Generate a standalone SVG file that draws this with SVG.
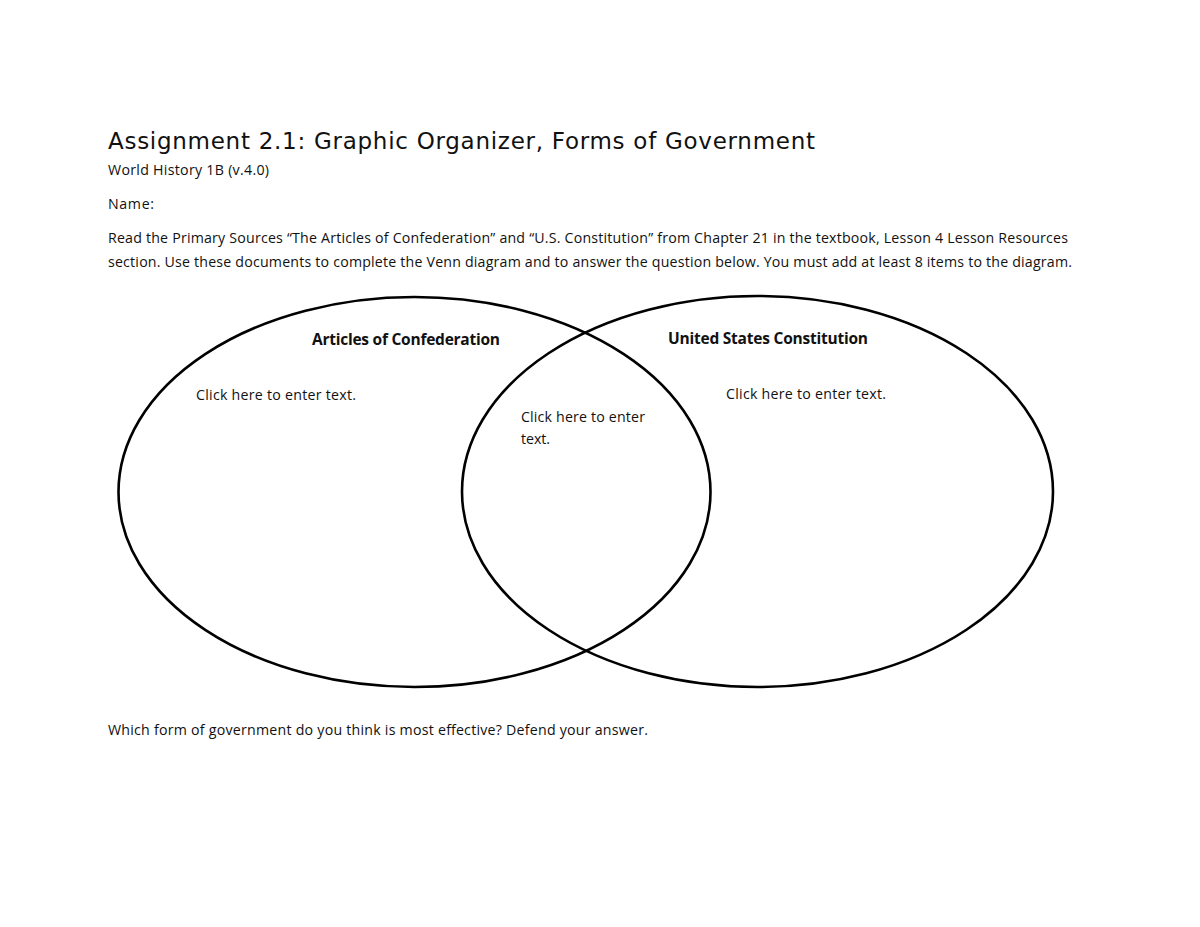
<svg xmlns="http://www.w3.org/2000/svg" width="1200" height="927" viewBox="0 0 1200 927">
<style>
.t{font-family:"DejaVu Sans","Noto Sans",sans-serif;font-size:23px;fill:#111}
.b{font-family:"Open Sans","Noto Sans",sans-serif;font-size:14.2px;fill:#111}
.h{font-family:"Open Sans","Noto Sans",sans-serif;font-size:15.5px;font-weight:bold;fill:#111}
.e{fill:none;stroke:#000;stroke-width:2.6}
</style>
<rect width="1200" height="927" fill="#fff"/>
<g id="header">
<text class="t" x="108" y="149" textLength="707">Assignment 2.1: Graphic Organizer, Forms of Government</text>
<text class="b" x="108" y="175" textLength="161">World History 1B (v.4.0)</text>
<text class="b" x="108" y="209" textLength="46">Name:</text>
<text class="b" x="108" y="243" textLength="960">Read the Primary Sources “The Articles of Confederation” and “U.S. Constitution” from Chapter 21 in the textbook, Lesson 4 Lesson Resources</text>
<text class="b" x="108" y="267" textLength="964">section. Use these documents to complete the Venn diagram and to answer the question below. You must add at least 8 items to the diagram.</text>
</g>
<g id="articles">
<ellipse class="e" cx="414.5" cy="492" rx="296" ry="195"/>
<text class="h" x="312" y="345" textLength="188">Articles of Confederation</text>
<text class="b" x="196" y="400" textLength="160">Click here to enter text.</text>
</g>
<g id="constitution">
<ellipse class="e" cx="757.5" cy="491.5" rx="295.5" ry="195.5"/>
<text class="h" x="668" y="344" textLength="200">United States Constitution</text>
<text class="b" x="726" y="399" textLength="160">Click here to enter text.</text>
</g>
<g id="both">
<text class="b" x="521" y="422" textLength="124">Click here to enter</text>
<text class="b" x="521" y="444" textLength="29">text.</text>
</g>
<g id="connectors"></g>
<g id="question">
<text class="b" x="108" y="735" textLength="540">Which form of government do you think is most effective? Defend your answer.</text>
</g>
</svg>
